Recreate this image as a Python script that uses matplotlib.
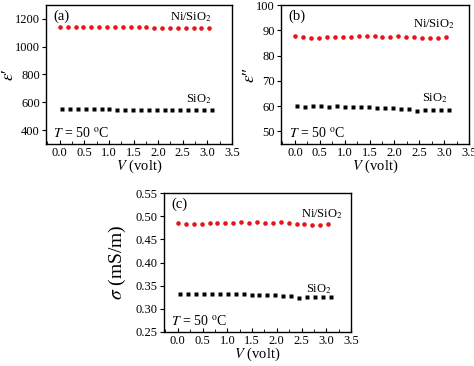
import matplotlib
matplotlib.use("Agg")
import matplotlib.pyplot as plt
from matplotlib.ticker import MultipleLocator, FormatStrFormatter

plt.rcParams['font.family'] = ['Liberation Serif', 'DejaVu Serif']
plt.rcParams['mathtext.fontset'] = 'stix'

# voltage values (V)
v_ni = [0.00, 0.16, 0.32, 0.48, 0.64, 0.80, 0.96, 1.12, 1.28, 1.44,
        1.60, 1.76, 1.92, 2.08, 2.24, 2.40, 2.56, 2.72, 2.88, 3.04]
v_si = [0.05, 0.21, 0.37, 0.53, 0.69, 0.85, 1.01, 1.17, 1.33, 1.49,
        1.65, 1.81, 1.97, 2.13, 2.29, 2.45, 2.61, 2.77, 2.93, 3.09]

# (a) real permittivity
eps1_ni = [1142, 1142, 1141, 1141, 1141, 1140, 1140, 1140, 1140, 1139,
           1139, 1139, 1138, 1138, 1138, 1138, 1137, 1137, 1137, 1137]
eps1_si = [552, 551, 551, 550, 550, 549, 549, 548, 548, 547,
           547, 546, 545, 545, 544, 544, 543, 543, 542, 542]

# (b) imaginary permittivity
eps2_ni = [87.6, 87.2, 87.0, 87.1, 87.3, 87.3, 87.4, 87.5, 87.7, 87.6,
           87.9, 87.5, 87.3, 87.9, 87.5, 87.2, 87.0, 87.0, 86.8, 87.2]
eps2_si = [59.9, 59.8, 59.9, 59.9, 59.8, 59.9, 59.6, 59.8, 59.7, 59.5,
           59.4, 59.3, 59.2, 58.8, 58.8, 58.2, 58.4, 58.5, 58.4, 58.5]

# (c) conductivity (mS/m)
sig_ni = [0.486, 0.484, 0.483, 0.484, 0.485, 0.486, 0.485, 0.486, 0.487, 0.486,
          0.488, 0.486, 0.485, 0.488, 0.486, 0.484, 0.483, 0.482, 0.481, 0.484]
sig_si = [0.333, 0.333, 0.333, 0.333, 0.333, 0.333, 0.331, 0.332, 0.332, 0.330,
          0.330, 0.329, 0.329, 0.327, 0.327, 0.323, 0.325, 0.325, 0.325, 0.325]

W, H = 474, 366
fig = plt.figure(figsize=(W / 100, H / 100), dpi=100)


def make_axes(l, r, t, b):
    return fig.add_axes([l / W, 1 - b / H, (r - l) / W, (b - t) / H])


# axes, data, ylim, y step, tag, ylabel, ylabel x, label positions for Ni/SiO2 and SiO2
panels = [
    (make_axes(46, 232, 5, 144), eps1_ni, eps1_si, (300, 1300), 200, "(a)",
     "$\\varepsilon$\u2032", -0.155, 12.5, (3.1, 1212), (3.1, 623), '%d'),
    (make_axes(281, 469, 5, 144), eps2_ni, eps2_si, (45, 100), 10, "(b)",
     "$\\varepsilon$\u2033", -0.12, 12.5, (3.22, 92.6), (3.08, 63.2), '%d'),
    (make_axes(164, 351, 193, 332), sig_ni, sig_si, (0.25, 0.55), 0.05, "(c)",
     "$\\sigma$ (mS/m)", -0.195, 14, (3.34, 0.504), (3.12, 0.343), '%.2f'),
]

for ax, ni, si, ylim, ystep, tag, ylab, ylx, ylfs, pos_ni, pos_si, fmt in panels:
    ax.plot(v_ni, ni, 'o', color='#e8141c', ms=3.3, mec='none')
    ax.plot(v_si, si, 's', color='black', ms=3.3, mec='none')
    ax.set_xlim(-0.28, 3.5)
    ax.set_ylim(*ylim)
    ax.xaxis.set_major_locator(MultipleLocator(0.5))
    ax.xaxis.set_minor_locator(MultipleLocator(0.25))
    ax.yaxis.set_major_locator(MultipleLocator(ystep))
    ax.yaxis.set_major_formatter(FormatStrFormatter(fmt))
    ax.tick_params(axis='x', which='both', direction='in', labelsize=9, pad=2.5)
    ax.tick_params(axis='x', which='major', length=3)
    ax.tick_params(axis='x', which='minor', length=2)
    ax.tick_params(axis='y', direction='out', length=3, labelsize=9, pad=1.5)
    for s in ax.spines.values():
        s.set_linewidth(1.0)
    ax.set_xlabel("$V$ (volt)", fontsize=10.5, labelpad=-1)
    ax.set_ylabel(ylab, fontsize=ylfs)
    ax.yaxis.set_label_coords(ylx, 0.5)
    ax.text(0.04, 0.97, tag, transform=ax.transAxes, fontsize=10.5, va='top', ha='left')
    ax.text(pos_ni[0], pos_ni[1], "Ni/SiO$_2$", fontsize=9, va='center', ha='right')
    ax.text(pos_si[0], pos_si[1], "SiO$_2$", fontsize=9, va='center', ha='right')
    ax.text(0.04, 0.03, "$T$ = 50 $^{\\rm o}$C", transform=ax.transAxes, fontsize=10,
            va='bottom', ha='left')

fig.savefig("out.png", dpi=100)
